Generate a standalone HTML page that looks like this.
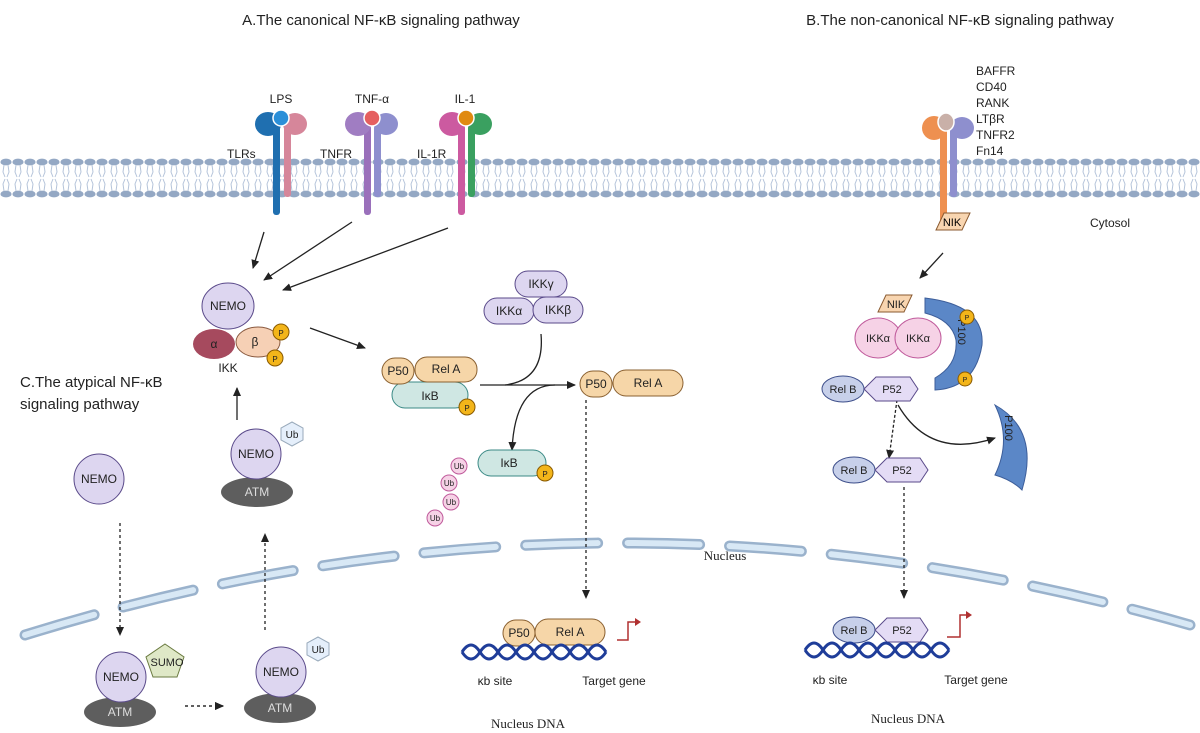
<!DOCTYPE html>
<html><head><meta charset="utf-8"><style>
html,body{margin:0;padding:0;background:#fff;}
svg{display:block;font-family:"Liberation Sans",sans-serif;}
</style></head><body>
<svg width="1200" height="733" viewBox="0 0 1200 733" xmlns="http://www.w3.org/2000/svg">
<defs>
<pattern id="mem" x="0" y="156" width="12" height="46" patternUnits="userSpaceOnUse">
<ellipse cx="6" cy="6" rx="5.6" ry="3.4" fill="#94a8c4"/>
<ellipse cx="6" cy="38" rx="5.6" ry="3.4" fill="#94a8c4"/>
<path d="M4 9 L3 16 L5 21 M8 9 L9 16 L7 21 M4 35 L3 28 L5 23 M8 35 L9 28 L7 23" stroke="#b5c4da" stroke-width="1" fill="none"/>
</pattern>
<marker id="ah" markerWidth="10" markerHeight="10" refX="8" refY="5" orient="auto" markerUnits="userSpaceOnUse"><path d="M0 1 L9 5 L0 9 Z" fill="#222"/></marker>
</defs>
<g font-size="15" fill="#222">
<text x="381" y="25" text-anchor="middle">A.The canonical NF-κB signaling pathway</text>
<text x="960" y="25" text-anchor="middle">B.The non-canonical NF-κB signaling pathway</text>
<text x="20" y="387">C.The atypical NF-κB</text>
<text x="20" y="409">signaling pathway</text>
</g>
<rect x="0" y="156" width="1200" height="46" fill="url(#mem)"/>
<path d="M25 635 Q600 456 1190 625" fill="none" stroke="#9ab2cc" stroke-width="11" stroke-linecap="round" stroke-dasharray="72 30"/>
<path d="M25 635 Q600 456 1190 625" fill="none" stroke="#d8e8f5" stroke-width="6" stroke-linecap="round" stroke-dasharray="72 30"/>
<g>
<rect x="273" y="125" width="7" height="90" rx="3" fill="#1f6fb0"/>
<rect x="284" y="125" width="7" height="72" rx="3" fill="#d6869a"/>
<ellipse cx="268" cy="124" rx="13" ry="12" fill="#1f6fb0"/>
<ellipse cx="295" cy="124" rx="12" ry="11" fill="#d6869a"/>
<circle cx="281" cy="118" r="8" fill="#2b8fd8" stroke="#fff" stroke-width="1.5"/>
<rect x="364" y="125" width="7" height="90" rx="3" fill="#9a70bb"/>
<rect x="374" y="125" width="7" height="72" rx="3" fill="#8e8fce"/>
<ellipse cx="358" cy="124" rx="13" ry="12" fill="#a07dc2"/>
<ellipse cx="386" cy="124" rx="12" ry="11" fill="#8e8fce"/>
<circle cx="372" cy="118" r="8" fill="#e55f5f" stroke="#fff" stroke-width="1.5"/>
<rect x="458" y="125" width="7" height="90" rx="3" fill="#cc5aa0"/>
<rect x="468" y="125" width="7" height="72" rx="3" fill="#3aa060"/>
<ellipse cx="452" cy="124" rx="13" ry="12" fill="#cc5aa0"/>
<ellipse cx="480" cy="124" rx="12" ry="11" fill="#3aa060"/>
<circle cx="466" cy="118" r="8" fill="#e08a10" stroke="#fff" stroke-width="1.5"/>
<rect x="940" y="125" width="7" height="100" rx="3" fill="#ee9050"/>
<rect x="950" y="125" width="7" height="72" rx="3" fill="#8e8fce"/>
<ellipse cx="934" cy="128" rx="12" ry="12" fill="#ee9050"/>
<ellipse cx="962" cy="128" rx="12" ry="11" fill="#8e8fce"/>
<ellipse cx="946" cy="122" rx="8" ry="9" fill="#c9b0a8" stroke="#fff" stroke-width="1.5"/>
<path d="M944 213 L970 213 L962 230 L936 230 Z" fill="#f8d5b0" stroke="#8a5a30"/>
<text x="952" y="226" font-size="11" text-anchor="middle">NIK</text>
</g>
<g font-size="12" fill="#222">
<text x="281" y="103" text-anchor="middle">LPS</text>
<text x="372" y="103" text-anchor="middle">TNF-α</text>
<text x="465" y="103" text-anchor="middle">IL-1</text>
<text x="227" y="158">TLRs</text>
<text x="320" y="158">TNFR</text>
<text x="417" y="158">IL-1R</text>
<text x="976" y="75">BAFFR</text><text x="976" y="91">CD40</text><text x="976" y="107">RANK</text>
<text x="976" y="123">LTβR</text><text x="976" y="139">TNFR2</text><text x="976" y="155">Fn14</text>
<text x="1090" y="227">Cytosol</text>
</g>
<g stroke="#222" stroke-width="1.3" fill="none" marker-end="url(#ah)">
<line x1="264" y1="232" x2="253" y2="268"/>
<line x1="352" y1="222" x2="264" y2="280"/>
<line x1="448" y1="228" x2="283" y2="290"/>
<line x1="310" y1="328" x2="365" y2="348"/>
<line x1="237" y1="420" x2="237" y2="388"/>
<line x1="943" y1="253" x2="920" y2="278"/>
<path d="M480 385 L575 385"/>
<path d="M541 334 Q545 380 505 385" marker-end="none"/>
<path d="M555 385 Q515 385 512 450"/>
<path d="M898 405 Q930 460 995 438"/>
<path d="M897 400 L889 458" stroke-dasharray="3 2"/>
</g>
<g stroke="#222" stroke-width="1.3" fill="none" stroke-dasharray="3 3" marker-end="url(#ah)">
<line x1="586" y1="400" x2="586" y2="598"/>
<line x1="904" y1="487" x2="904" y2="598"/>
<line x1="120" y1="523" x2="120" y2="635"/>
<line x1="265" y1="630" x2="265" y2="534"/>
<line x1="185" y1="706" x2="223" y2="706"/>
</g>
<g font-size="12" text-anchor="middle" fill="#222">
<ellipse cx="228" cy="306" rx="26" ry="23" fill="#ddd6f0" stroke="#5a4a8a"/>
<text x="228" y="310">NEMO</text>
<ellipse cx="214" cy="344" rx="21" ry="15" fill="#a64a5e"/>
<text x="214" y="348">α</text>
<ellipse cx="258" cy="342" rx="22" ry="15" fill="#f6d0b5" stroke="#8a5a40"/>
<text x="255" y="346">β</text>
<circle cx="281" cy="332" r="8" fill="#f3b51a" stroke="#8a5a00"/><text x="281" y="336" font-size="8">P</text>
<circle cx="275" cy="358" r="8" fill="#f3b51a" stroke="#8a5a00"/><text x="275" y="362" font-size="8">P</text>
<text x="228" y="372">IKK</text>
<rect x="515" y="271" width="52" height="26" rx="13" fill="#ddd6f0" stroke="#5a4a8a"/><text x="541" y="288">IKKγ</text>
<rect x="484" y="298" width="50" height="26" rx="13" fill="#ddd6f0" stroke="#5a4a8a"/><text x="509" y="315">IKKα</text>
<rect x="533" y="297" width="50" height="26" rx="13" fill="#ddd6f0" stroke="#5a4a8a"/><text x="558" y="314">IKKβ</text>
<rect x="392" y="382" width="76" height="26" rx="13" fill="#cfe7e3" stroke="#3b8a86"/><text x="430" y="400">IκB</text>
<circle cx="467" cy="407" r="8" fill="#f3b51a" stroke="#8a5a00"/><text x="467" y="411" font-size="8">P</text>
<rect x="382" y="358" width="32" height="26" rx="13" fill="#f6d6a8" stroke="#8a6030"/><text x="398" y="375">P50</text>
<rect x="415" y="357" width="62" height="25" rx="12" fill="#f6d6a8" stroke="#8a6030"/><text x="446" y="373">Rel A</text>
<rect x="580" y="371" width="32" height="26" rx="13" fill="#f6d6a8" stroke="#8a6030"/><text x="596" y="388">P50</text>
<rect x="613" y="370" width="70" height="26" rx="13" fill="#f6d6a8" stroke="#8a6030"/><text x="648" y="387">Rel A</text>
<rect x="478" y="450" width="68" height="26" rx="13" fill="#cfe7e3" stroke="#3b8a86"/><text x="509" y="467">IκB</text>
<circle cx="545" cy="473" r="8" fill="#f3b51a" stroke="#8a5a00"/><text x="545" y="477" font-size="8">P</text>
<g fill="#f6d2e6" stroke="#c05b9c"><circle cx="459" cy="466" r="8"/><circle cx="449" cy="483" r="8"/><circle cx="451" cy="502" r="8"/><circle cx="435" cy="518" r="8"/></g>
<g font-size="8"><text x="459" y="469">Ub</text><text x="449" y="486">Ub</text><text x="451" y="505">Ub</text><text x="435" y="521">Ub</text></g>
<circle cx="99" cy="479" r="25" fill="#ddd6f0" stroke="#5a4a8a"/><text x="99" y="483">NEMO</text>
<ellipse cx="257" cy="492" rx="36" ry="15" fill="#5e5e5e"/><text x="257" y="496" fill="#ddd">ATM</text>
<circle cx="256" cy="454" r="25" fill="#ddd6f0" stroke="#5a4a8a"/><text x="256" y="458">NEMO</text>
<path d="M292 422 L303 428 L303 440 L292 446 L281 440 L281 428 Z" fill="#e5effb" stroke="#9ab"/><text x="292" y="438" font-size="10">Ub</text>
<ellipse cx="120" cy="712" rx="36" ry="15" fill="#5e5e5e"/><text x="120" y="716" fill="#ddd">ATM</text>
<path d="M165 644 L184 657 L177 677 L153 677 L146 657 Z" fill="#dfe8c7" stroke="#6a7a40"/>
<circle cx="121" cy="677" r="25" fill="#ddd6f0" stroke="#5a4a8a"/><text x="121" y="681">NEMO</text>
<text x="167" y="666" font-size="11">SUMO</text>
<ellipse cx="280" cy="708" rx="36" ry="15" fill="#5e5e5e"/><text x="280" y="712" fill="#ddd">ATM</text>
<circle cx="281" cy="672" r="25" fill="#ddd6f0" stroke="#5a4a8a"/><text x="281" y="676">NEMO</text>
<path d="M318 637 L329 643 L329 655 L318 661 L307 655 L307 643 Z" fill="#e5effb" stroke="#9ab"/><text x="318" y="653" font-size="10">Ub</text>
<path d="M925 298 Q985 305 982 345 Q975 388 935 390 L935 378 Q958 365 956 340 Q952 320 925 313 Z" fill="#5b87c7" stroke="#3d5e9a"/>
<text transform="translate(958,332) rotate(90)" font-size="11">P100</text>
<path d="M886 295 L912 295 L904 312 L878 312 Z" fill="#f8d5b0" stroke="#8a5a30"/><text x="896" y="308" font-size="11">NIK</text>
<ellipse cx="878" cy="338" rx="23" ry="20" fill="#f6d2e6" stroke="#c05b9c"/><text x="878" y="342" font-size="11">IKKα</text>
<ellipse cx="918" cy="338" rx="23" ry="20" fill="#f6d2e6" stroke="#c05b9c"/><text x="918" y="342" font-size="11">IKKα</text>
<circle cx="967" cy="317" r="7" fill="#f3b51a" stroke="#8a5a00"/><text x="967" y="320" font-size="7">P</text>
<circle cx="965" cy="379" r="7" fill="#f3b51a" stroke="#8a5a00"/><text x="965" y="382" font-size="7">P</text>
<ellipse cx="843" cy="389" rx="21" ry="13" fill="#c7d0ea" stroke="#3d4e8a"/><text x="843" y="393" font-size="11">Rel B</text>
<path d="M864 389 L876 377 L910 377 L918 389 L910 401 L876 401 Z" fill="#e4dcf5" stroke="#5a4a8a"/><text x="892" y="393" font-size="11">P52</text>
<path d="M995 405 Q1040 430 1022 490 Q1012 480 995 475 Q1012 440 995 405 Z" fill="#5b87c7" stroke="#3d5e9a"/>
<text transform="translate(1005,428) rotate(90)" font-size="11">P100</text>
<ellipse cx="854" cy="470" rx="21" ry="13" fill="#c7d0ea" stroke="#3d4e8a"/><text x="854" y="474" font-size="11">Rel B</text>
<path d="M875 470 L887 458 L920 458 L928 470 L920 482 L887 482 Z" fill="#e4dcf5" stroke="#5a4a8a"/><text x="902" y="474" font-size="11">P52</text>
<rect x="503" y="620" width="32" height="26" rx="13" fill="#f6d6a8" stroke="#8a6030"/><text x="519" y="637">P50</text>
<rect x="535" y="619" width="70" height="26" rx="13" fill="#f6d6a8" stroke="#8a6030"/><text x="570" y="636">Rel A</text>
<path d="M617 640 L628 640 L628 622 L636 622" stroke="#b03030" stroke-width="1.5" fill="none"/><path d="M635 618 L641 622 L635 626 Z" fill="#b03030"/>
<ellipse cx="854" cy="630" rx="21" ry="13" fill="#c7d0ea" stroke="#3d4e8a"/><text x="854" y="634" font-size="11">Rel B</text>
<path d="M875 630 L887 618 L920 618 L928 630 L920 642 L887 642 Z" fill="#e4dcf5" stroke="#5a4a8a"/><text x="902" y="634" font-size="11">P52</text>
<path d="M947 637 L960 637 L960 615 L967 615" stroke="#b03030" stroke-width="1.5" fill="none"/><path d="M966 611 L972 615 L966 619 Z" fill="#b03030"/>
</g>
<g stroke="#222" stroke-width="1.3" fill="none" stroke-dasharray="3 3" marker-end="url(#ah)">
<line x1="185" y1="706" x2="223" y2="706"/>
</g>
<g fill="none" stroke="#1f3d99" stroke-width="3">
<path d="M462 652 q9 -14 18 0 t18 0 t18 0 t18 0 t18 0 t18 0 t18 0 t18 0"/>
<path d="M462 652 q9 14 18 0 t18 0 t18 0 t18 0 t18 0 t18 0 t18 0 t18 0"/>
<path d="M805 650 q9 -14 18 0 t18 0 t18 0 t18 0 t18 0 t18 0 t18 0 t18 0"/>
<path d="M805 650 q9 14 18 0 t18 0 t18 0 t18 0 t18 0 t18 0 t18 0 t18 0"/>
</g>
<g font-size="12" fill="#222" text-anchor="middle">
<text x="495" y="685">κb site</text><text x="614" y="685">Target gene</text>
<text x="830" y="684">κb site</text><text x="976" y="684">Target gene</text>
</g>
<g font-family="Liberation Serif,serif" font-size="13" fill="#222" text-anchor="middle">
<text x="528" y="728">Nucleus DNA</text><text x="908" y="723">Nucleus DNA</text>
<text x="725" y="560">Nucleus</text>
</g>
</svg>
</body></html>
